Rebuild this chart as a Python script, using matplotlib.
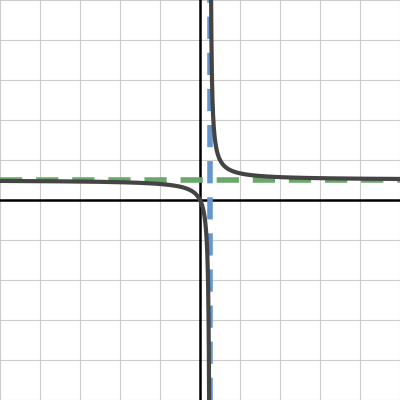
import numpy as np
import matplotlib.pyplot as plt

# f(x) = x / (2x - 1), asymptotes x = 0.5 and y = 0.5*... scaled view
x_asym = 0.5
y_asym = 1.0
a = 0.5

fig = plt.figure(figsize=(4, 4), dpi=100)
ax = fig.add_axes([0, 0, 1, 1])
ax.set_xlim(-10, 10)
ax.set_ylim(-10, 10)

for v in np.arange(-10, 11, 2):
    ax.axvline(v, color='#cccccc', lw=0.8, zorder=0)
    ax.axhline(v, color='#cccccc', lw=0.8, zorder=0)
ax.axvline(0, color='black', lw=1.8, zorder=1)
ax.axhline(0, color='black', lw=1.8, zorder=1)

ax.axvline(x_asym, color='#6496cf', lw=4, ls=(0, (4, 2.5)), zorder=2)
ax.axhline(y_asym, color='#6aa86a', lw=4, ls=(0, (4, 2.5)), zorder=2)

xl = np.linspace(-10, x_asym - 0.001, 2000)
xr = np.linspace(x_asym + 0.001, 10, 2000)
for xs in (xl, xr):
    ax.plot(xs, y_asym + a / (xs - x_asym), color='#444444', lw=3, zorder=3)

ax.axis('off')
fig.savefig('out.png')
